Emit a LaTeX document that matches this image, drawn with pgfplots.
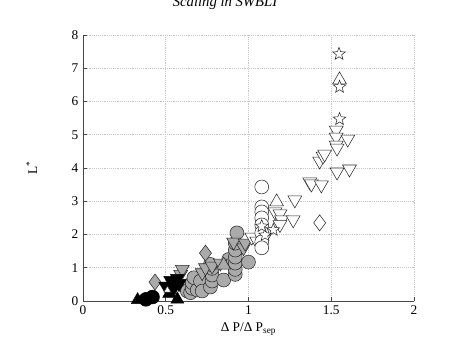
\documentclass[border=0pt]{standalone}
\usepackage{pgfplots}
\pgfplotsset{compat=1.18}
\usepackage{fontspec}
\setmainfont{Liberation Serif}
\definecolor{mgray}{RGB}{170,170,170}
\definecolor{edge}{RGB}{40,40,40}
\definecolor{axgray}{RGB}{70,70,70}
\pgfdeclareplotmark{pentastar}{%
  \pgfpathmoveto{\pgfpointpolar{90}{\pgfplotmarksize}}%
  \pgfpathlineto{\pgfpointpolar{126}{0.42*\pgfplotmarksize}}%
  \pgfpathlineto{\pgfpointpolar{162}{\pgfplotmarksize}}%
  \pgfpathlineto{\pgfpointpolar{198}{0.42*\pgfplotmarksize}}%
  \pgfpathlineto{\pgfpointpolar{234}{\pgfplotmarksize}}%
  \pgfpathlineto{\pgfpointpolar{270}{0.42*\pgfplotmarksize}}%
  \pgfpathlineto{\pgfpointpolar{306}{\pgfplotmarksize}}%
  \pgfpathlineto{\pgfpointpolar{342}{0.42*\pgfplotmarksize}}%
  \pgfpathlineto{\pgfpointpolar{18}{\pgfplotmarksize}}%
  \pgfpathlineto{\pgfpointpolar{54}{0.42*\pgfplotmarksize}}%
  \pgfpathclose
  \pgfusepathqfillstroke
}
\begin{document}
\begin{tikzpicture}
\useasboundingbox (0,0) rectangle (355.5pt,266.25pt);
\node[font=\itshape\fontsize{11}{12}\selectfont, anchor=base] at (168.75pt,261.5pt) {Scaling in SWBLI};
\begin{axis}[
  at={(62.25pt,40.5pt)}, anchor=south west,
  scale only axis, width=248.25pt, height=199.5pt,
  xmin=0, xmax=2, ymin=0, ymax=8,
  xtick={0,0.5,1,1.5,2}, ytick={0,1,2,3,4,5,6,7,8},
  axis x line*=bottom, axis y line*=left,
  grid=major, grid style={densely dotted, gray!45, line width=0.4pt},
  tick align=inside, major tick length=3pt,
  tick style={axgray, line width=0.4pt},
  axis line style={axgray, line width=0.5pt},
  ticklabel style={font=\fontsize{10}{11}\selectfont},
  /pgf/number format/assume math mode=true,
  xlabel={Δ P/Δ P\textsubscript{sep}},
  xlabel style={at={(axis description cs:0.5,-0.113)}, anchor=base, font=\fontsize{10}{11}\selectfont},
  ylabel={L\textsuperscript{*}},
  ylabel style={at={(axis description cs:-0.155,0.5)}, anchor=center, font=\fontsize{10}{11}\selectfont},
  clip=false,
]
% gray filled circles
\addplot[only marks, mark=*, mark size=5.2pt, mark options={fill=mgray, draw=edge, line width=0.4pt}] coordinates {
(0.62,0.45)(0.63,0.3)(0.65,0.25)(0.66,0.38)(0.66,0.55)(0.67,0.7)(0.69,0.33)(0.71,0.6)(0.72,0.3)(0.77,0.42)(0.78,0.6)(0.78,0.78)(0.78,0.98)(0.77,1.1)(0.85,0.63)(0.88,1.25)(0.92,0.8)(0.92,0.95)(0.92,1.14)(0.92,1.32)(0.92,1.53)(0.92,1.74)(0.93,2.05)(1.0,1.17)
};
% gray down triangles
\addplot[only marks, mark=triangle*, mark size=6pt, mark options={rotate=180, fill=mgray, draw=edge, line width=0.4pt}] coordinates {
(0.59,0.8)(0.6,0.95)(0.72,0.85)(0.74,1.0)(0.78,1.05)(0.83,1.14)(0.91,1.77)(0.97,1.6)(0.98,1.74)
};
% gray up triangle
\addplot[only marks, mark=triangle*, mark size=6pt, mark options={fill=mgray, draw=edge, line width=0.4pt}] coordinates {(0.85,1.08)};
% gray diamonds
\addplot[only marks, mark=diamond*, mark size=6pt, mark options={fill=mgray, draw=edge, line width=0.4pt}] coordinates {(0.435,0.57)(0.74,1.44)};
% black down triangles
\addplot[only marks, mark=triangle*, mark size=6pt, mark options={rotate=180, fill=black, draw=black}] coordinates {
(0.5,0.45)(0.53,0.62)(0.57,0.68)(0.58,0.52)(0.55,0.4)
};
% black circles
\addplot[only marks, mark=*, mark size=5.2pt, mark options={fill=black, draw=black}] coordinates {(0.38,0.05)(0.42,0.12)};
% black up triangles
\addplot[only marks, mark=triangle*, mark size=5.5pt, mark options={fill=black, draw=black}] coordinates {(0.33,0.03)(0.57,0.05)(0.52,0.22)};
% small open triangle
\addplot[only marks, mark=triangle*, mark size=3pt, mark options={fill=white, draw=edge, line width=0.4pt}] coordinates {(0.51,0.33)};
% open down triangles
\addplot[only marks, mark=triangle*, mark size=6pt, mark options={rotate=180, fill=white, draw=edge, line width=0.4pt}] coordinates {
(1.02,1.92)(1.05,1.8)(1.12,2.1)(1.16,2.68)(1.19,2.62)(1.20,2.44)(1.19,2.3)(1.27,2.44)(1.28,3.04)(1.37,3.58)(1.38,3.52)(1.44,3.49)(1.43,4.21)(1.45,4.36)(1.46,4.42)(1.53,5.14)(1.53,4.93)(1.60,4.87)(1.53,4.69)(1.535,4.6)(1.535,3.88)(1.61,3.97)
};
% open circles
\addplot[only marks, mark=*, mark size=5.2pt, mark options={fill=white, draw=edge, line width=0.4pt}] coordinates {
(1.08,3.43)(1.08,2.83)(1.08,2.68)(1.08,2.5)(1.08,2.29)(1.08,2.05)(1.08,1.78)(1.08,1.6)
};
% open up triangles
\addplot[only marks, mark=triangle*, mark size=6pt, mark options={fill=white, draw=edge, line width=0.4pt}] coordinates {(1.17,2.98)(1.55,6.65)};
% open stars
\addplot[only marks, mark=pentastar, mark size=5pt, mark options={fill=white, draw=edge, line width=0.4pt}] coordinates {
(1.547,7.43)(1.55,6.44)(1.55,5.47)(1.15,2.14)(1.10,1.98)(1.08,2.25)
};
% open diamond
\addplot[only marks, mark=diamond*, mark size=6pt, mark options={fill=white, draw=edge, line width=0.4pt}] coordinates {(1.43,2.35)};
\end{axis}
\end{tikzpicture}
\end{document}
